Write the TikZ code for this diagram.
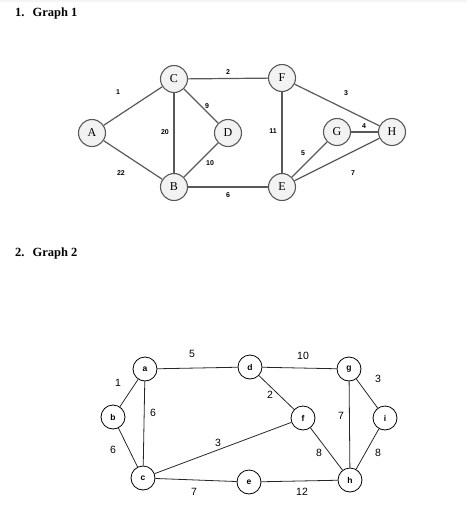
\documentclass[tikz,border=0pt]{standalone}
\usepackage{fontspec}
\setmainfont{Liberation Serif}
\newfontfamily\arialf{Liberation Sans}
\begin{document}
\begin{tikzpicture}[x=1pt,y=-1pt,
  title/.style={anchor=west,inner sep=0pt,font=\bfseries\fontsize{12.5}{14}\selectfont},
  gonenode/.style={circle,draw=black!65,fill=gray!10,line width=1.1pt,minimum size=27pt,inner sep=0pt,font=\fontsize{12}{12}\selectfont},
  goneedge/.style={draw=black!65,line width=1.2pt},
  gonelab/.style={inner sep=0pt,font=\arialf\bfseries\fontsize{7}{7}\selectfont},
  gtwonode/.style={circle,draw=black,line width=0.8pt,minimum size=24pt,inner sep=0pt,font=\arialf\bfseries\fontsize{8.5}{8.5}\selectfont},
  gtwoedge/.style={draw=black!85,line width=0.8pt},
  gtwolab/.style={inner sep=0pt,font=\arialf\fontsize{10.5}{10.5}\selectfont}
]
\useasboundingbox (0,0) rectangle (467,531);
\fill[gray!8] (0,0) rectangle (467,2);

\node[title] (t1) at (15,13) {1.\hspace{8pt}Graph 1};
\node[title] (t2) at (15,253) {2.\hspace{8pt}Graph 2};

% Graph 1
\node[gonenode] (A) at (92,133) {A};
\node[gonenode] (C) at (174,79) {C};
\node[gonenode] (D) at (228,133) {D};
\node[gonenode] (B) at (174,187) {B};
\node[gonenode] (F) at (282,78) {F};
\node[gonenode] (E) at (282,187) {E};
\node[gonenode] (G) at (337,132) {G};
\node[gonenode] (H) at (392,132) {H};

\draw[goneedge] (A) -- (C);
\draw[goneedge] (A) -- (B);
\draw[goneedge] (C) -- (B);
\draw[goneedge] (C) -- (D);
\draw[goneedge] (D) -- (B);
\draw[goneedge] (C) -- (F);
\draw[goneedge] (B) -- (E);
\draw[goneedge] (F) -- (E);
\draw[goneedge] (F) -- (H);
\draw[goneedge] (G) -- (H);
\draw[goneedge] (E) -- (G);
\draw[goneedge] (E) -- (H);

\node[gonelab] (l1) at (118,92) {1};
\node[gonelab] (l2) at (228,72) {2};
\node[gonelab] (l9) at (207,106) {9};
\node[gonelab] (l20) at (165,132) {20};
\node[gonelab] (l10) at (210,163) {10};
\node[gonelab] (l22) at (121,173) {22};
\node[gonelab] (l6) at (228,195) {6};
\node[gonelab] (l11) at (273,131) {11};
\node[gonelab] (l3) at (346,93) {3};
\node[gonelab] (l4) at (364,126) {4};
\node[gonelab] (l5) at (303,153) {5};
\node[gonelab] (l7) at (353,173) {7};

% Graph 2
\node[gtwonode] (a) at (145,369) {a};
\node[gtwonode] (b) at (113,417) {b};
\node[gtwonode] (c) at (143,478) {c};
\node[gtwonode] (d) at (250,367) {d};
\node[gtwonode] (e) at (249,482) {e};
\node[gtwonode] (f) at (303,418) {f};
\node[gtwonode] (g) at (349,369) {g};
\node[gtwonode] (i) at (385,418) {i};
\node[gtwonode] (h) at (350,480) {h};

\draw[gtwoedge] (a) -- (d);
\draw[gtwoedge] (a) -- (b);
\draw[gtwoedge] (a) -- (c);
\draw[gtwoedge] (b) -- (c);
\draw[gtwoedge] (c) -- (f);
\draw[gtwoedge] (c) -- (e);
\draw[gtwoedge] (d) -- (g);
\draw[gtwoedge] (d) -- (f);
\draw[gtwoedge] (e) -- (h);
\draw[gtwoedge] (f) -- (h);
\draw[gtwoedge] (g) -- (h);
\draw[gtwoedge] (g) -- (i);
\draw[gtwoedge] (i) -- (h);

\node[gtwolab] (m5) at (192,354) {5};
\node[gtwolab] (m1) at (118,383) {1};
\node[gtwolab] (m6a) at (153,413) {6};
\node[gtwolab] (m6b) at (113,450) {6};
\node[gtwolab] (m3) at (218,443) {3};
\node[gtwolab] (m7) at (194,492) {7};
\node[gtwolab] (m2) at (270,395) {2};
\node[gtwolab] (m10) at (303,356) {10};
\node[gtwolab] (m3b) at (378,379) {3};
\node[gtwolab] (m7b) at (341,416) {7};
\node[gtwolab] (m8a) at (319,453) {8};
\node[gtwolab] (m8b) at (378,453) {8};
\node[gtwolab] (m12) at (302,492) {12};
\end{tikzpicture}
\end{document}
